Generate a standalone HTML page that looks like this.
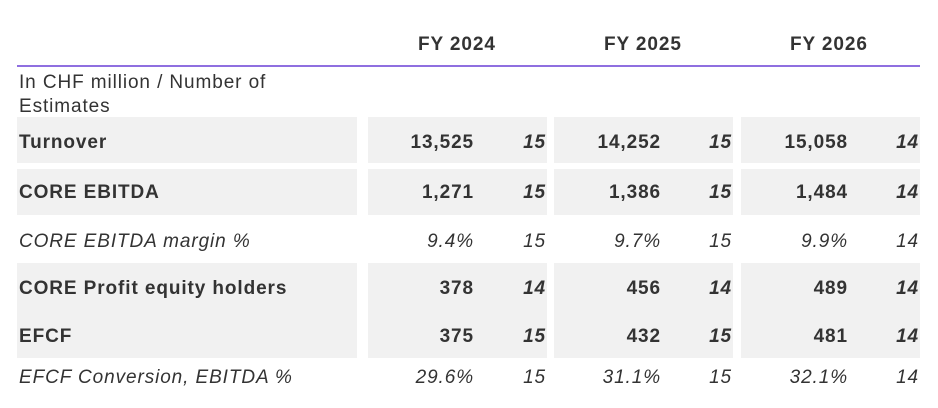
<!DOCTYPE html><html><head><style>
body{margin:0;width:938px;height:408px;background:#fff;font-family:"Liberation Sans",Arial,sans-serif;color:#333;position:relative;overflow:hidden}
div{position:absolute}
.g{background:#f1f1f1}
.t{font-size:19px;line-height:20px;white-space:nowrap;letter-spacing:0.9px}
.b{font-weight:bold}
.i{font-style:italic}
.r{text-align:right}
</style></head><body>
<div class="t b" style="left:418px;top:35px">FY 2024</div>
<div class="t b" style="left:604px;top:35px">FY 2025</div>
<div class="t b" style="left:790px;top:35px">FY 2026</div>
<div style="left:17px;top:65px;width:903px;height:2px;background:#8f6fe0"></div>
<div class="t" style="left:19px;top:71px;line-height:24px">In CHF million / Number of<br>Estimates</div>

<div class="g" style="left:17px;top:117px;width:340px;height:46px"></div>
<div class="g" style="left:368px;top:117px;width:179px;height:46px"></div>
<div class="g" style="left:554px;top:117px;width:179px;height:46px"></div>
<div class="g" style="left:741px;top:117px;width:179px;height:46px"></div>
<div class="g" style="left:17px;top:169px;width:340px;height:46px"></div>
<div class="g" style="left:368px;top:169px;width:179px;height:46px"></div>
<div class="g" style="left:554px;top:169px;width:179px;height:46px"></div>
<div class="g" style="left:741px;top:169px;width:179px;height:46px"></div>
<div class="g" style="left:17px;top:263px;width:340px;height:95px"></div>
<div class="g" style="left:368px;top:263px;width:179px;height:95px"></div>
<div class="g" style="left:554px;top:263px;width:179px;height:95px"></div>
<div class="g" style="left:741px;top:263px;width:179px;height:95px"></div>

<div class="t b" style="left:19px;top:133px">Turnover</div>
<div class="t b" style="left:19px;top:183px">CORE EBITDA</div>
<div class="t i" style="left:19px;top:232px">CORE EBITDA margin %</div>
<div class="t b" style="left:19px;top:279px">CORE Profit equity holders</div>
<div class="t b" style="left:19px;top:327px">EFCF</div>
<div class="t i" style="left:19px;top:368px">EFCF Conversion, EBITDA %</div>

<div class="t b r" style="left:374px;width:100px;top:133px">13,525</div>
<div class="t b i r" style="left:500px;width:46px;top:133px">15</div>
<div class="t b r" style="left:561px;width:100px;top:133px">14,252</div>
<div class="t b i r" style="left:686px;width:46px;top:133px">15</div>
<div class="t b r" style="left:748px;width:100px;top:133px">15,058</div>
<div class="t b i r" style="left:873px;width:46px;top:133px">14</div>

<div class="t b r" style="left:374px;width:100px;top:183px">1,271</div>
<div class="t b i r" style="left:500px;width:46px;top:183px">15</div>
<div class="t b r" style="left:561px;width:100px;top:183px">1,386</div>
<div class="t b i r" style="left:686px;width:46px;top:183px">15</div>
<div class="t b r" style="left:748px;width:100px;top:183px">1,484</div>
<div class="t b i r" style="left:873px;width:46px;top:183px">14</div>

<div class="t i r" style="left:374px;width:100px;top:232px">9.4%</div>
<div class="t i r" style="left:500px;width:46px;top:232px">15</div>
<div class="t i r" style="left:561px;width:100px;top:232px">9.7%</div>
<div class="t i r" style="left:686px;width:46px;top:232px">15</div>
<div class="t i r" style="left:748px;width:100px;top:232px">9.9%</div>
<div class="t i r" style="left:873px;width:46px;top:232px">14</div>

<div class="t b r" style="left:374px;width:100px;top:279px">378</div>
<div class="t b i r" style="left:500px;width:46px;top:279px">14</div>
<div class="t b r" style="left:561px;width:100px;top:279px">456</div>
<div class="t b i r" style="left:686px;width:46px;top:279px">14</div>
<div class="t b r" style="left:748px;width:100px;top:279px">489</div>
<div class="t b i r" style="left:873px;width:46px;top:279px">14</div>

<div class="t b r" style="left:374px;width:100px;top:327px">375</div>
<div class="t b i r" style="left:500px;width:46px;top:327px">15</div>
<div class="t b r" style="left:561px;width:100px;top:327px">432</div>
<div class="t b i r" style="left:686px;width:46px;top:327px">15</div>
<div class="t b r" style="left:748px;width:100px;top:327px">481</div>
<div class="t b i r" style="left:873px;width:46px;top:327px">14</div>

<div class="t i r" style="left:374px;width:100px;top:368px">29.6%</div>
<div class="t i r" style="left:500px;width:46px;top:368px">15</div>
<div class="t i r" style="left:561px;width:100px;top:368px">31.1%</div>
<div class="t i r" style="left:686px;width:46px;top:368px">15</div>
<div class="t i r" style="left:748px;width:100px;top:368px">32.1%</div>
<div class="t i r" style="left:873px;width:46px;top:368px">14</div>
</body></html>
